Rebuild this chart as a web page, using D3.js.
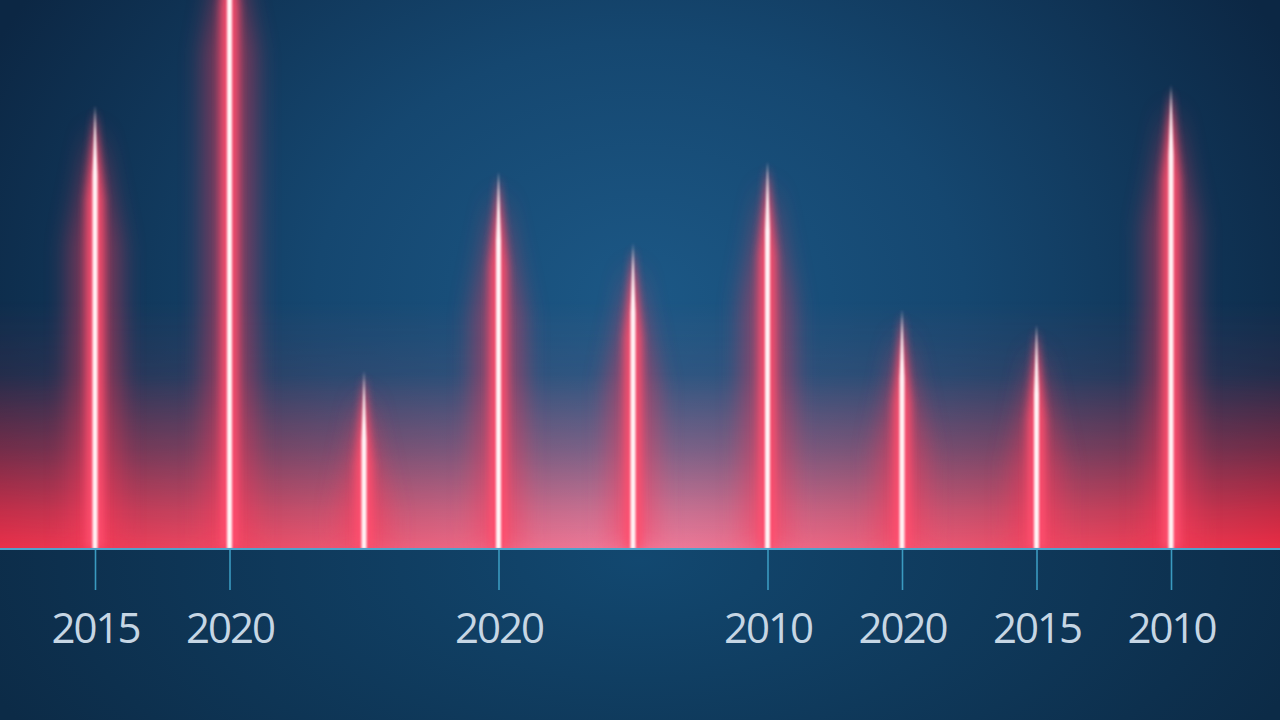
<!DOCTYPE html>
<html>
<head>
<meta charset="utf-8">
<script src="https://cdn.jsdelivr.net/npm/d3@7"></script>
<style>
  html, body { margin: 0; padding: 0; background: #0d2a46; }
  svg { display: block; }
</style>
</head>
<body>
<svg id="chart" width="1280" height="720"></svg>
<script>
// ---- data ----
const categories = [0, 1, 2, 3, 4, 5, 6, 7, 8];
const values = [87, 125, 35, 74, 60, 76, 47, 44, 91];
const tickLabels = ["2015", "2020", "", "2020", "", "2010", "2020", "2015", "2010"];

const W = 1280, H = 720;
const svg = d3.select("#chart");
const defs = svg.append("defs");

const x = d3.scalePoint().domain(categories).range([95, 1171]);
const y = d3.scaleLinear().domain([0, 100]).range([549, 39]);
const base = y(0);

// background gradients
const bg = defs.append("radialGradient").attr("id", "bg")
  .attr("gradientUnits", "userSpaceOnUse")
  .attr("cx", 640).attr("cy", 300).attr("r", 720)
  .attr("gradientTransform", "translate(640,300) scale(1,0.8) translate(-640,-300)");
bg.append("stop").attr("offset", 0).attr("stop-color", "#1c5886");
bg.append("stop").attr("offset", 0.45).attr("stop-color", "#154770");
bg.append("stop").attr("offset", 1).attr("stop-color", "#0c2744");

const haze = defs.append("linearGradient").attr("id", "hazeColor")
  .attr("x1", 0).attr("x2", 1).attr("y1", 0).attr("y2", 0);
haze.append("stop").attr("offset", 0).attr("stop-color", "#f2304a");
haze.append("stop").attr("offset", 0.22).attr("stop-color", "#f2506a");
haze.append("stop").attr("offset", 0.5).attr("stop-color", "#f5809f");
haze.append("stop").attr("offset", 0.78).attr("stop-color", "#f2506a");
haze.append("stop").attr("offset", 1).attr("stop-color", "#f22c44");

const hazeV = defs.append("linearGradient").attr("id", "hazeV")
  .attr("x1", 0).attr("x2", 0).attr("y1", 0).attr("y2", 1);
hazeV.append("stop").attr("offset", 0).attr("stop-color", "#fff").attr("stop-opacity", 0);
hazeV.append("stop").attr("offset", 0.3).attr("stop-color", "#fff").attr("stop-opacity", 0.1);
hazeV.append("stop").attr("offset", 0.6).attr("stop-color", "#fff").attr("stop-opacity", 0.45);
hazeV.append("stop").attr("offset", 0.85).attr("stop-color", "#fff").attr("stop-opacity", 0.8);
hazeV.append("stop").attr("offset", 1).attr("stop-color", "#fff").attr("stop-opacity", 0.97);

const mask = defs.append("mask").attr("id", "hazeMask")
  .attr("maskUnits", "userSpaceOnUse").attr("x", 0).attr("y", 0).attr("width", W).attr("height", H);
mask.append("rect").attr("x", 0).attr("y", 300).attr("width", W).attr("height", base - 300)
  .attr("fill", "url(#hazeV)");

const below = defs.append("radialGradient").attr("id", "below")
  .attr("gradientUnits", "userSpaceOnUse")
  .attr("cx", 640).attr("cy", 560).attr("r", 700)
  .attr("gradientTransform", "translate(640,560) scale(1,0.5) translate(-640,-560)");
below.append("stop").attr("offset", 0).attr("stop-color", "#124870");
below.append("stop").attr("offset", 1).attr("stop-color", "#0c2b47");

// blur filters
[["blurWide", 13], ["blurMid", 4], ["blurCore", 0.8]].forEach(([id, s]) => {
  defs.append("filter").attr("id", id)
    .attr("x", "-300%").attr("y", "-50%").attr("width", "700%").attr("height", "200%")
    .append("feGaussianBlur").attr("stdDeviation", s);
});

// background
svg.append("rect").attr("width", W).attr("height", H).attr("fill", "url(#bg)");

// red haze
const hz = svg.append("g").attr("mask", "url(#hazeMask)");
hz.append("rect").attr("x", 0).attr("y", 300).attr("width", W).attr("height", base - 300)
  .attr("fill", "url(#hazeColor)");

// spikes
function spikePath(cx, top, w, taper) {
  const t = Math.min(top + taper, base);
  return `M${cx - w},${base} L${cx - w},${t} L${cx},${top} L${cx + w},${t} L${cx + w},${base} Z`;
}

const spikes = svg.append("g").selectAll("g").data(categories).join("g");

spikes.append("path")
  .attr("d", d => spikePath(x(d), y(values[d]) + 20, 24, 120))
  .attr("fill", "#ff3a5c").attr("opacity", 0.5).attr("filter", "url(#blurWide)");
spikes.append("path")
  .attr("d", d => spikePath(x(d), y(values[d]) + 4, 9, 90))
  .attr("fill", "#ff4f6e").attr("opacity", 0.95).attr("filter", "url(#blurMid)");
spikes.append("path")
  .attr("d", d => spikePath(x(d), y(values[d]), 2.5, 70))
  .attr("fill", "#fff4f6").attr("filter", "url(#blurCore)");

// below-axis area
svg.append("rect").attr("x", 0).attr("y", base).attr("width", W).attr("height", H - base)
  .attr("fill", "url(#below)");

// axis
const ticked = categories.filter(d => tickLabels[d] !== "");
const axis = d3.axisBottom(x)
  .tickValues(ticked)
  .tickFormat(d => tickLabels[d])
  .tickSize(41)
  .tickPadding(23);

const ax = svg.append("g").attr("transform", `translate(0,${base})`).call(axis);
ax.select(".domain").remove();
ax.selectAll(".tick line").attr("stroke", "#3a9ac0").attr("stroke-width", 1.6);
ax.selectAll(".tick text")
  .attr("fill", "#c6d6e4")
  .attr("font-family", "'Open Sans', Roboto, sans-serif")
  .attr("font-size", 42)
  .attr("letter-spacing", "-2px")
  .attr("dx", "0px");

svg.append("line").attr("x1", 0).attr("x2", W).attr("y1", base).attr("y2", base)
  .attr("stroke", "#4fa3cc").attr("stroke-width", 2);
</script>
</body>
</html>
